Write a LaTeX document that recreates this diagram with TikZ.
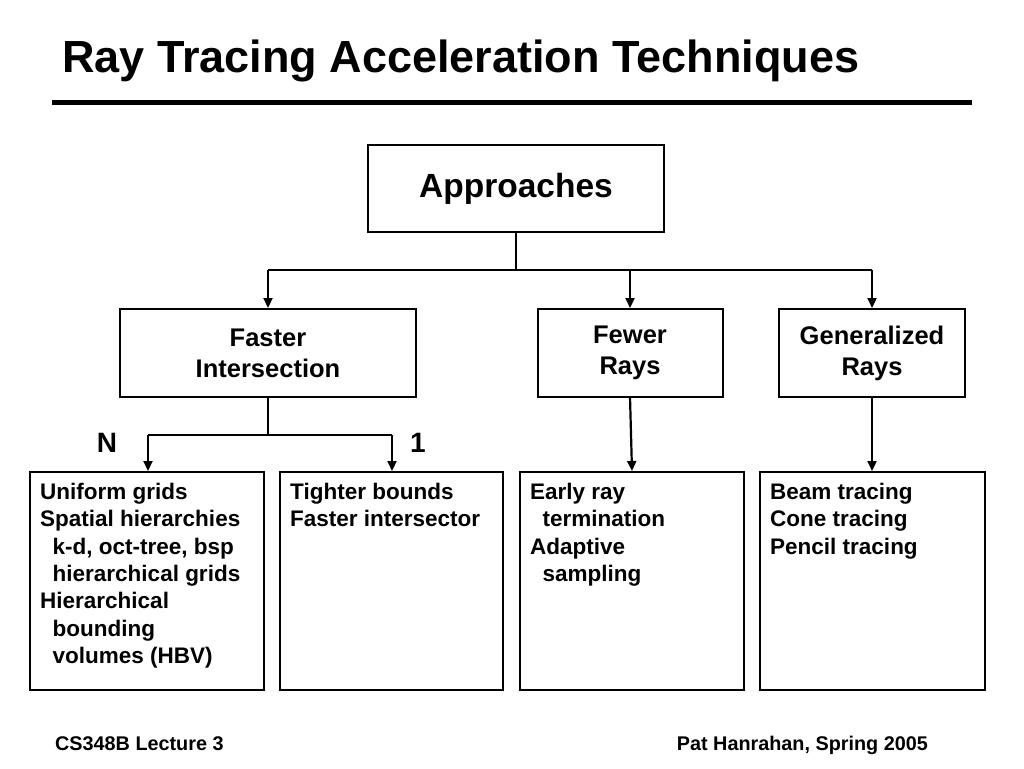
\documentclass[tikz,border=0pt]{standalone}
\usepackage{fontspec}
\setmainfont{Liberation Sans}
\usetikzlibrary{arrows.meta}
\begin{document}
\begin{tikzpicture}[x=1pt,y=-1pt,font=\bfseries,
  box/.style={draw,line width=2.2pt,inner sep=0pt},
  conn/.style={line width=2.2pt},
  arr/.style={line width=2.2pt,-{Triangle[length=10pt,width=9pt]}},
  lbl/.style={font=\fontsize{25.5}{31}\selectfont\bfseries,align=center},
  lst/.style={font=\fontsize{22.5}{27.3}\selectfont\bfseries,align=left,anchor=north west,inner sep=0pt}]
\useasboundingbox (0,0) rectangle (1024,768);
\node[anchor=base west,inner sep=0pt,font=\fontsize{45}{50}\selectfont\bfseries] (title) at (62,72) {Ray Tracing Acceleration Techniques};
\draw[line width=5pt] (52,102) coordinate (r1) -- (972,102) coordinate (r2);
% top
\draw[box] (368,145) rectangle (664,232);
\node[font=\fontsize{33.5}{36}\selectfont\bfseries] (app) at (516,189) {Approaches};
\coordinate (appb) at (516,232);
% second row
\draw[box] (120,309) rectangle (416,397);
\node[lbl] (fi) at (268,353) {Faster\\Intersection};
\draw[box] (538,309) rectangle (723,397);
\node[lbl] (fr) at (630,353) {Fewer\\Rays};
\draw[box] (779,309) rectangle (965,397);
\node[lbl] (gr) at (872,353) {Generalized\\Rays};
\coordinate (fit) at (268,308); \coordinate (frt) at (630,308); \coordinate (grt) at (872,308);
\coordinate (fib) at (268,397); \coordinate (frb) at (630,397); \coordinate (grb) at (872,397);
\draw[conn] (appb) -- (516,270) coordinate (h);
\draw[conn] (268,270) -- (872,270);
\draw[arr] (268,270) -- (fit);
\draw[arr] (630,270) -- (frt);
\draw[arr] (872,270) -- (grt);
% bottom
\draw[box] (30,472) rectangle (264,690);
\draw[box] (280,472) rectangle (503,690);
\draw[box] (520,472) rectangle (744,690);
\draw[box] (760,472) rectangle (985,690);
\coordinate (b1) at (148,471); \coordinate (b2) at (392,471);
\coordinate (b3) at (632,471); \coordinate (b4) at (872,471);
\draw[conn] (fib) -- (268,435);
\draw[conn] (148,435) -- (392,435);
\draw[arr] (148,435) -- (b1);
\draw[arr] (392,435) -- (b2);
\draw[arr] (frb) -- (b3);
\draw[arr] (grb) -- (b4);
\node[font=\fontsize{28}{30}\selectfont\bfseries] (N) at (107,443) {N};
\node[font=\fontsize{28}{30}\selectfont\bfseries] (one) at (418,443) {1};
\node[lst] (t1) at (40,483) {Uniform grids\\Spatial hierarchies\\\ \ k-d, oct-tree, bsp\\\ \ hierarchical grids\\Hierarchical\\\ \ bounding\\\ \ volumes (HBV)};
\node[lst] (t2) at (290,483) {Tighter bounds\\Faster intersector};
\node[lst] (t3) at (530,483) {Early ray\\\ \ termination\\Adaptive\\\ \ sampling};
\node[lst] (t4) at (770,483) {Beam tracing\\Cone tracing\\Pencil tracing};
\node[anchor=base west,inner sep=0pt,font=\fontsize{19.8}{22}\selectfont\bfseries] (f1) at (55,750) {CS348B Lecture 3};
\node[anchor=base east,inner sep=0pt,font=\fontsize{19.8}{22}\selectfont\bfseries] (f2) at (928,750) {Pat Hanrahan, Spring 2005};
\end{tikzpicture}
\end{document}
